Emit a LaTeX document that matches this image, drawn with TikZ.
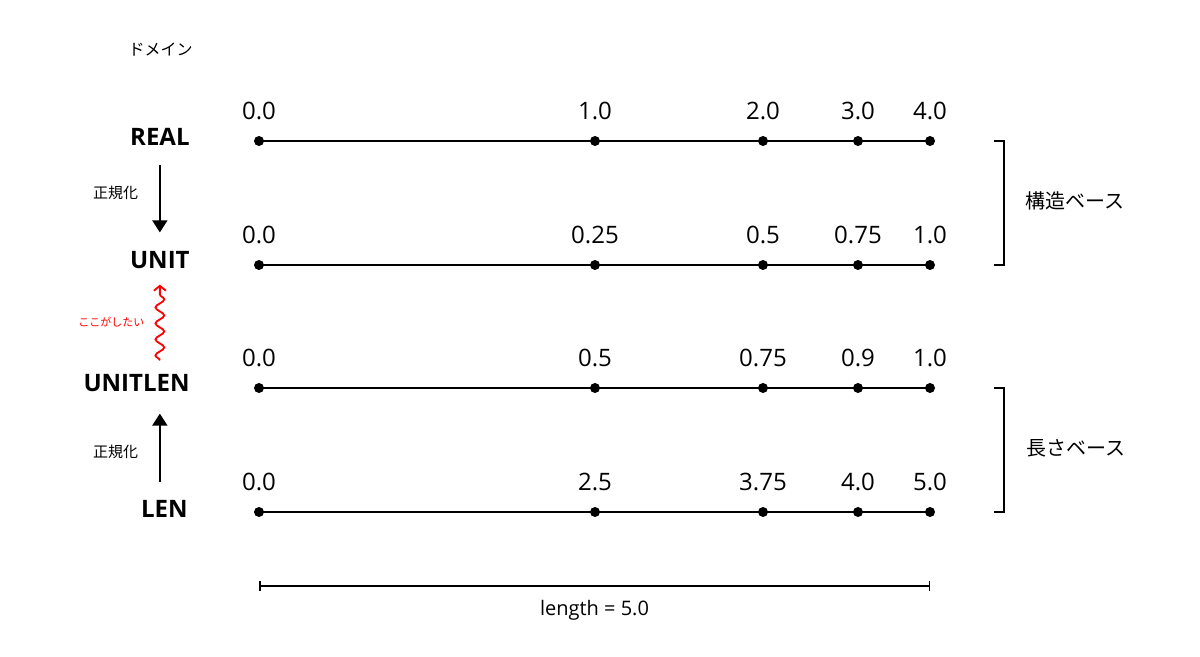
\documentclass[tikz,border=0pt]{standalone}
\usepackage{fontspec}
\setmainfont{Open Sans}
\newfontfamily\jpfont{Noto Sans CJK JP}
\usetikzlibrary{calc,positioning,arrows.meta,decorations.pathmorphing}
\definecolor{color_line}{HTML}{000000}
\definecolor{color_wish}{HTML}{ff0000}

\begin{document}
\begin{tikzpicture}[x=0.5pt,y=-0.5pt,color_line,
	tick label/.style={inner sep=0pt,font=\fontsize{12}{14}\selectfont},
	domain label/.style={inner sep=0pt,anchor=east,font=\fontsize{12}{14}\selectfont\bfseries},
	small label/.style={inner sep=0pt,font=\fontsize{7.5}{9}\selectfont\jpfont},
	base label/.style={inner sep=0pt,font=\fontsize{10}{12}\selectfont},
	axis/.style={line width=0.75pt},
	normalize/.style={line width=0.75pt,-{Triangle[width=7.5pt,length=6pt]}},
	wish/.style={color_wish,line width=0.9pt,-{Straight Barb[length=2.5pt,width=6pt]},decorate,
		decoration={snake,amplitude=2.2pt,segment length=8pt,post length=4pt}}]
	\useasboundingbox (0,0) rectangle (1200,657);
	% Rows
	\foreach \row/\y/\va/\vb/\vc/\vd/\ve in {
		real/141/0.0/1.0/2.0/3.0/4.0,
		unit/265/0.0/0.25/0.5/0.75/1.0,
		unitlen/388/0.0/0.5/0.75/0.9/1.0,
		len/512/0.0/2.5/3.75/4.0/5.0}{
		\coordinate (\row-0) at (259, \y);
		\coordinate (\row-1) at (595, \y);
		\coordinate (\row-2) at (763, \y);
		\coordinate (\row-3) at (858, \y);
		\coordinate (\row-4) at (930, \y);
		\draw[axis] (\row-0) -- (\row-4);
		\fill
			(\row-0) circle(2.5pt)
			(\row-1) circle(2.5pt)
			(\row-2) circle(2.5pt)
			(\row-3) circle(2.5pt)
			(\row-4) circle(2.5pt)
			;
		\node[tick label, above=10.5pt] (\row-t0) at (\row-0) {\va};
		\node[tick label, above=10.5pt] (\row-t1) at (\row-1) {\vb};
		\node[tick label, above=10.5pt] (\row-t2) at (\row-2) {\vc};
		\node[tick label, above=10.5pt] (\row-t3) at (\row-3) {\vd};
		\node[tick label, above=10.5pt] (\row-t4) at (\row-4) {\ve};
	}

	% Domains
	\node[small label, anchor=east, font=\fontsize{8}{10}\selectfont\jpfont] (domain) at (193, 50) {ドメイン};
	\node[domain label] (real) at (190, 136.5) {REAL};
	\node[domain label] (unit) at (190, 260.5) {UNIT};
	\node[domain label] (unitlen) at (190, 383.5) {UNITLEN};
	\node[domain label] (len) at (188, 508.5) {LEN};

	% Normalization
	\draw[normalize, shorten <=10pt, shorten >=9.5pt]
		(real.south -| unit) -- node[pos=0.45, small label, left=10.5pt] (norm-top) {正規化} (unit.north);
	\draw[normalize, shorten <=9pt, shorten >=10.5pt]
		(len.north -| unit) -- node[pos=0.45, small label, left=10.5pt] (norm-bottom) {正規化} (unitlen.south -| unit);
	\coordinate (wish-from) at ($(unitlen.north -| unit)+(0, -14)$);
	\coordinate (wish-to) at ($(unit.south)+(0, 15)$);
	\draw[wish] (wish-from) -- (wish-to);
	\node[small label, color_wish, font=\fontsize{5.5}{7}\selectfont\jpfont, left=7.5pt]
		(wish) at ($(wish-from)!0.5!(wish-to)$) {ここがしたい};

	% Brackets
	\draw[axis]
		($(real-4)+(64, 0)$) -| ($(unit-4)+(74, 0)$) -- ($(unit-4)+(64, 0)$);
	\node[base label, font=\fontsize{10}{12}\selectfont\jpfont, right=10.5pt]
		(structure) at ($(real-4)!0.5!(unit-4)+(74, -2)$) {構造ベース};
	\draw[axis]
		($(unitlen-4)+(64, 0)$) -| ($(len-4)+(74, 0)$) -- ($(len-4)+(64, 0)$);
	\node[base label, font=\fontsize{10}{12}\selectfont\jpfont, right=11pt]
		(length-base) at ($(unitlen-4)!0.5!(len-4)+(74, -2)$) {長さベース};

	% Length
	\coordinate (ML) at ($(len-0)+(0, 74)$);
	\coordinate (MR) at ($(len-4)+(0, 74)$);
	\draw[axis, {Bar[width=5pt]}-{Bar[width=5pt]}]
		(ML) -- node[base label, below=7pt] (length) {length = 5.0} (MR);
\end{tikzpicture}
\end{document}
